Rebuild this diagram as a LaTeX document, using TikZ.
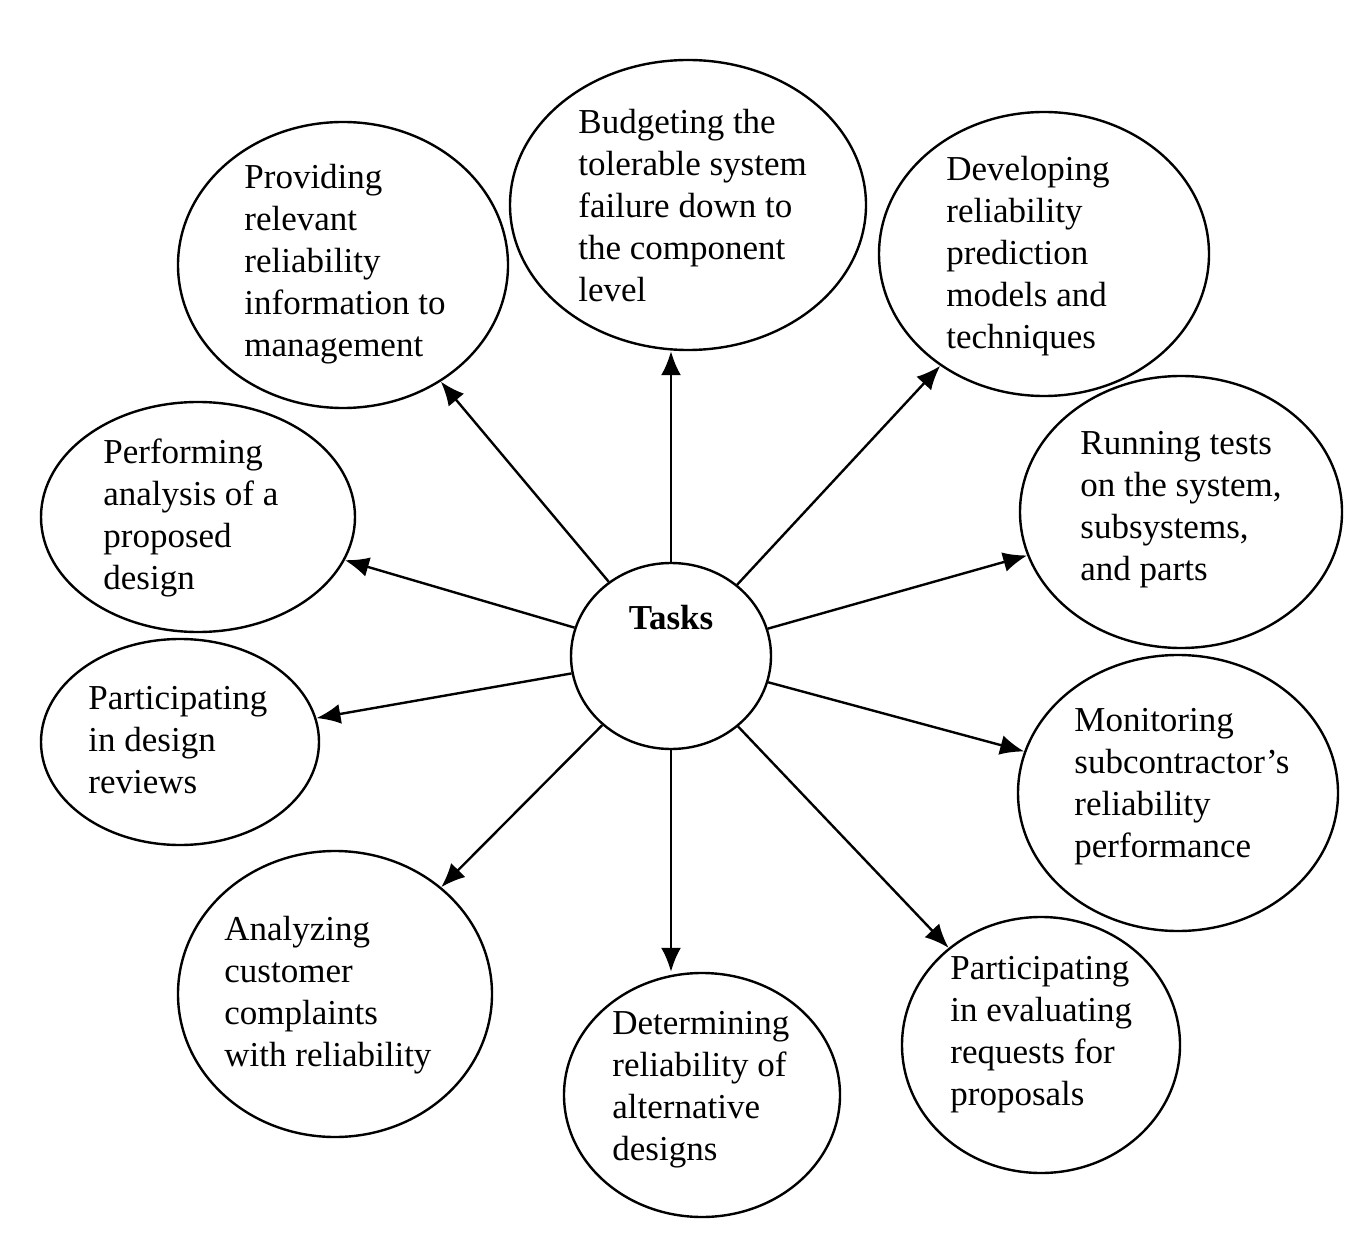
\documentclass[tikz,border=0pt]{standalone}
\usepackage{fontspec}
\setmainfont{Liberation Serif}
\usetikzlibrary{arrows.meta,shapes.geometric}
\begin{document}
\begin{tikzpicture}[x=0.5pt,y=-0.5pt,
  ell/.style={draw,line width=1.2pt,ellipse,inner sep=0pt},
  txt/.style={anchor=north west,inner sep=0pt,align=left,font=\fontsize{17.5}{21}\selectfont},
  arr/.style={line width=1.2pt,-{Latex[length=12pt,width=10pt]}}]
\useasboundingbox (0,0) rectangle (1348,1245);
\node[ell,minimum width=100pt,minimum height=93pt] (t) at (671,656) {};
\node[font=\fontsize{17.5}{21}\selectfont\bfseries] (tl) at (671,618) {Tasks};
\node[ell,minimum width=165pt,minimum height=143pt] (a) at (343,265) {};
\node[ell,minimum width=178pt,minimum height=145pt] (b) at (688,205) {};
\node[ell,minimum width=165pt,minimum height=142pt] (c) at (1044,254) {};
\node[ell,minimum width=157pt,minimum height=115pt] (d) at (198,517) {};
\node[ell,minimum width=161pt,minimum height=136pt] (e) at (1181,512) {};
\node[ell,minimum width=139pt,minimum height=103pt] (f) at (180,742) {};
\node[ell,minimum width=160pt,minimum height=138pt] (g) at (1178,793) {};
\node[ell,minimum width=157pt,minimum height=143pt] (h) at (335,994) {};
\node[ell,minimum width=138pt,minimum height=122pt] (i) at (702,1095) {};
\node[ell,minimum width=139pt,minimum height=128pt] (j) at (1041,1045) {};
\node[txt] (at) at (244,164) {Providing\\relevant\\reliability\\information to\\management};
\node[txt] (bt) at (578,109) {Budgeting the\\tolerable system\\failure down to\\the component\\level};
\node[txt] (ct) at (946,156) {Developing\\reliability\\prediction\\models and\\techniques};
\node[txt] (dt) at (103,438) {Performing\\analysis of a\\proposed\\design};
\node[txt] (et) at (1080,431) {Running tests\\on the system,\\subsystems,\\and parts};
\node[txt] (ft) at (88,686) {Participating\\in design\\reviews};
\node[txt] (gt) at (1074,708) {Monitoring\\subcontractor’s\\reliability\\performance};
\node[txt] (ht) at (224,916) {Analyzing\\customer\\complaints\\with reliability};
\node[txt] (it) at (612,1011) {Determining\\reliability of\\alternative\\designs};
\node[txt] (jt) at (950,956) {Participating\\in evaluating\\requests for\\proposals};
\draw[arr] (t) -- (a);
\draw[arr] (t.north) -- (b.south -| t.north);
\draw[arr] (t) -- (c);
\draw[arr] (t) -- (d);
\draw[arr] (t) -- (e);
\draw[arr] (t) -- (f);
\draw[arr] (t) -- (g);
\draw[arr] (t) -- (h);
\draw[arr] (t.south) -- (i.north -| t.south);
\draw[arr] (t) -- (j);
\end{tikzpicture}
\end{document}
